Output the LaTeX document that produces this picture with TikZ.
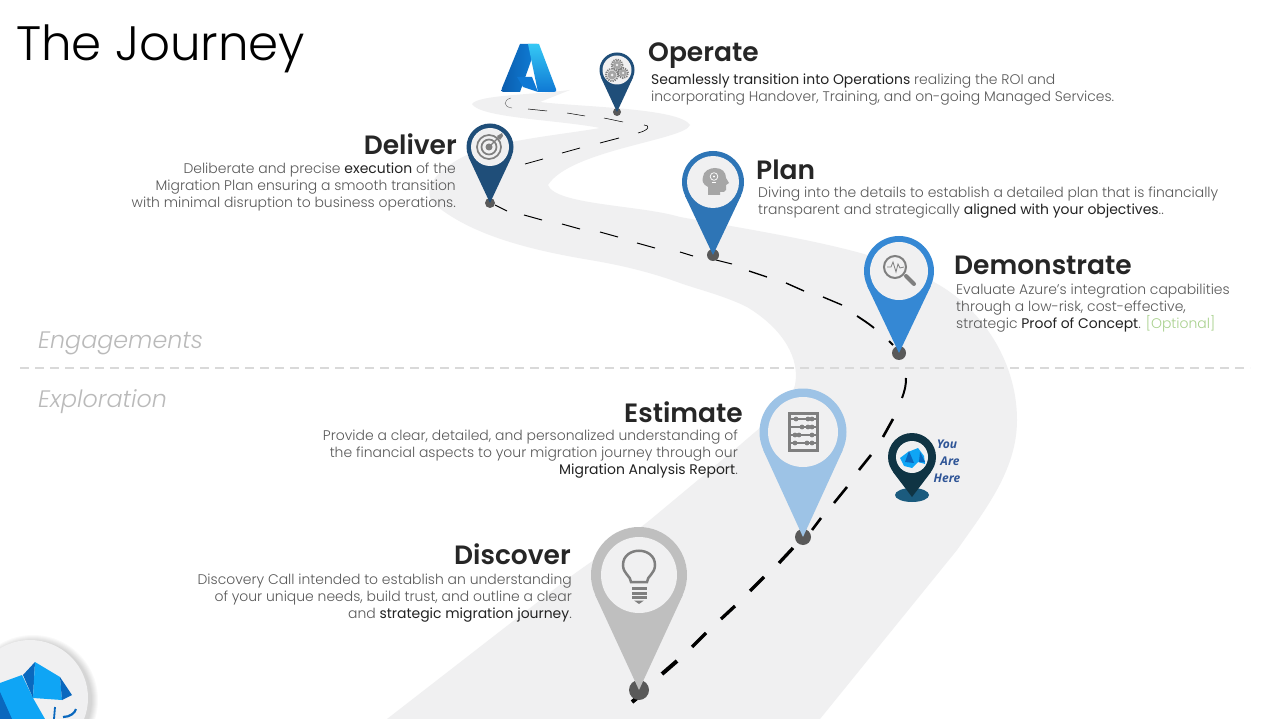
\documentclass[tikz,border=0pt]{standalone}
\usepackage{fontspec}
\setmainfont{Poppins Light}
\newfontfamily\pmed{Poppins SemiBold}
\newfontfamily\preg{Poppins}
\newfontfamily\youfont{Open Sans}
\usetikzlibrary{calc}
\definecolor{roadc}{HTML}{F0F0F1}
\definecolor{bodyc}{HTML}{595959}
\definecolor{emphc}{HTML}{222222}
\definecolor{headc}{HTML}{262626}
\definecolor{dotc}{HTML}{595959}
\definecolor{iconc}{HTML}{7F7F7F}
\definecolor{pinop}{HTML}{1F4E79}
\definecolor{pinpl}{HTML}{2E75B6}
\definecolor{pinde}{HTML}{3588D4}
\definecolor{pines}{HTML}{9DC3E6}
\definecolor{pindi}{HTML}{BFBFBF}
\definecolor{eleL}{HTML}{0FA5F5}
\definecolor{eleD}{HTML}{0A68BE}
\definecolor{youdark}{HTML}{0F3444}
\definecolor{youbase}{HTML}{1B5B7E}
\definecolor{youtext}{HTML}{2F5597}
\definecolor{optc}{HTML}{A9D18E}
\definecolor{azA}{HTML}{0B5CAD}
\definecolor{azB}{HTML}{0F7FD8}
\definecolor{azC}{HTML}{35C8F5}
\definecolor{azD}{HTML}{0F78D4}
\tikzset{
 x=1pt,y=-1pt,
 heading/.style={inner sep=0pt,text=headc,font=\pmed\fontsize{26.5}{30}\selectfont},
 bodytext/.style={inner sep=0pt,text=bodyc,font=\fontsize{13.95}{17}\selectfont},
 seg/.style={line cap=butt,black},
 icon/.style={iconc,line width=1.5pt},
 zone/.style={anchor=west,inner sep=0pt,text=black!27,font=\itshape\fontsize{23.8}{30}\selectfont},
}
\newcommand{\emx}[1]{{\preg\color{emphc}#1}}
% name cx cy R innerR tipy dotR color
\newcommand{\pinmark}[8]{%
 \fill[dotc] (#2,#6) ellipse[x radius=#7pt,y radius=#7pt];
 \node[circle,fill=#8,minimum size=2*#4 pt,inner sep=0pt] (#1) at (#2,#3) {};
 \coordinate (#1tip) at (#2,#6);
 \fill[#8] (#1tip) -- (tangent cs:node=#1,point={(#1tip)},solution=1) -- (tangent cs:node=#1,point={(#1tip)},solution=2) -- cycle;
 \node[circle,fill=roadc,minimum size=2*#5 pt,inner sep=0pt] (#1in) at (#2,#3) {};
}
\begin{document}
\begin{tikzpicture}
\useasboundingbox (0,0) rectangle (1280,719);
\fill[white] (0,0) rectangle (1280,719);
% road
\fill[roadc] (387,719) -- (570,577) .. controls (600,555) and (625,540) .. (650,520)
 -- (740,445) .. controls (765,423) and (790,405) .. (795,385)
 .. controls (800,360) and (785,330) .. (747,307)
 .. controls (725,296) and (700,290) .. (680,283)
 .. controls (650,272) and (620,265) .. (590,260)
 .. controls (530,250) and (470,235) .. (433,203)
 .. controls (420,185) and (445,165) .. (467,155)
 .. controls (500,140) and (560,135) .. (600,128)
 .. controls (560,120) and (480,118) .. (472,104)
 .. controls (478,95) and (530,95) .. (570,90)
 .. controls (560,94) and (550,98) .. (540,102)
 .. controls (580,107) and (680,108) .. (690,125)
 .. controls (685,140) and (570,150) .. (548,185)
 .. controls (555,205) and (640,205) .. (680,217)
 .. controls (780,235) and (880,250) .. (930,280)
 .. controls (980,305) and (1017,360) .. (1017,420)
 .. controls (1017,470) and (985,510) .. (957,550)
 -- (820,719) -- cycle;
% divider
\coordinate (divL) at (20,368); \coordinate (divR) at (1250,368);
\draw[color=black!15,line width=2pt,dash pattern=on 9pt off 6pt] (divL) -- (divR);
\node[zone] (eng) at (38,343) {Engagements};
\node[zone] (exp) at (38,402) {Exploration};
% title
\node[anchor=west,inner sep=0pt,text=black,font=\fontsize{48.3}{55}\selectfont] (title) at (16,49) {The Journey};
% dashes thin
\foreach \a/\b/\c/\d in {528/109/547/111,567/113/585/116,604/118/623/122}{\draw[seg,line width=.5pt] (\a,\b) -- (\c,\d);}
\draw[seg,line width=.4pt,black!60] (511,98) .. controls (503,100) and (503,107) .. (512,108);
\draw[seg,line width=.6pt] (638,133) .. controls (650,130) and (650,125) .. (644,125);
\foreach \a/\b/\c/\d in {600/143/619/138,562/153/580/148,525/164/543/159}{\draw[seg,line width=.8pt] (\a,\b) -- (\c,\d);}
\foreach \a/\b/\c/\d in {495/205/507/211,524/215/542/220,562/224/580/229,600/232/618/237,637/243/655/248,680/252/693/256,716/260/732/264}{\draw[seg,line width=1pt] (\a,\b) -- (\c,\d);}
\foreach \a/\b/\c/\d in {749/271/767/277,786/283/804/291,823/297/842/305}{\draw[seg,line width=1.4pt] (\a,\b) -- (\c,\d);}
\draw[seg,line width=1.8pt] (857,316) .. controls (863,320) and (868,323) .. (874,328);
\draw[seg,line width=1.8pt] (889,341) -- (893,345);
\draw[seg,line width=2pt] (902,398) .. controls (905,390) and (906,385) .. (906,378);
\foreach \a/\b/\c/\d in {883/437/893/419,859/470/871/455,834/503/847/487,812/530/821/518}{\draw[seg,line width=2.6pt] (\a,\b) -- (\c,\d);}
\foreach \a/\b/\c/\d in {779/563/793/548,750/591/764/577,721/619/735/606,692/647/706/633}{\draw[seg,line width=3.3pt] (\a,\b) -- (\c,\d);}
\foreach \a/\b/\c/\d in {662/674/677/661,632/702/637/698}{\draw[seg,line width=4pt] (\a,\b) -- (\c,\d);}
% pins
\pinmark{op}{617}{70}{17.5}{14.5}{112}{4}{pinop}
\pinmark{dl}{490}{147}{23.5}{19}{203}{5}{pinop}
\pinmark{pl}{713}{182}{31}{26}{255}{6}{pinpl}
\pinmark{dm}{899}{271}{35}{29}{353}{7}{pinde}
\pinmark{es}{803}{432}{43.5}{35}{537}{8}{pines}
\pinmark{di}{639}{575}{48}{38}{690}{10}{pindi}
% icons: discover bulb
\draw[icon,line width=2.5pt,fill=roadc] (631,582) .. controls (631,576) and (623,574) .. (623,565) .. controls (623,546) and (655,546) .. (655,565) .. controls (655,574) and (647,576) .. (647,582) -- cycle;
\foreach \yy in {588,593,597.5}{\draw[icon,line width=3pt] (632,\yy) -- (647,\yy);}
\fill[iconc] (634,600.5) -- (644,600.5) -- (639,604) -- cycle;
% abacus
\draw[icon,line width=3pt] (789.5,413.5) rectangle (817.5,450);
\foreach \yy in {419,427,435,443}{\draw[icon,line width=1.3pt] (791,\yy) -- (816,\yy);}
\foreach \a/\b in {796/419,808/419,812/419,802/427,808/427,812/427,795/435,799/435,812/435,795/443,807/443,812/443}{\fill[iconc] (\a,\b) circle[radius=2.4pt];}
% magnifier
\draw[icon,line width=2pt] (895,267) circle[radius=11pt];
\draw[icon,line width=.8pt] (887,267) -- (891,267) -- (893,262) -- (896,272) -- (898,264) -- (900,268) -- (904,267);
\draw[icon,line width=4pt,line cap=round] (906,276) -- (914,284);
% head
\fill[black!35] (708,195) -- (708,187) .. controls (702,184) and (702,180) .. (703,177) .. controls (703,171) and (710,168) .. (715,168) .. controls (722,168) and (726,172) .. (726,178) -- (729,183) -- (726,185) -- (726,190) .. controls (726,192) and (723,192) .. (720,192) -- (720,195) -- cycle;
\draw[white,line width=.7pt] (714,176.5) circle[radius=3.8pt];
\fill[white] (714,176.5) circle[radius=1.2pt];
\draw[white,line width=.8pt] (712,182.5) -- (716,182.5);
% target
\draw[icon,line width=1.7pt] (489,147) circle[radius=12pt];
\draw[icon,line width=1.7pt] (489,147) circle[radius=7.5pt];
\fill[iconc] (489,147) circle[radius=3.5pt];
\draw[icon,line width=1.2pt] (489,147) -- (499,137);
\fill[iconc] (497,136) -- (502,133) -- (503,136) -- (500,140) -- cycle;
% gears
\foreach \a/\b/\r in {617/65/5.5,612/75/6,623/73/5}{\draw[iconc,line width=2pt,dash pattern=on 1.2pt off 1pt] (\a,\b) circle[radius=\r pt];\fill[iconc!70] (\a,\b) circle[radius=.75*\r pt];\fill[roadc] (\a,\b) circle[radius=.25*\r pt];}
% azure logo
\shade[left color=azA,right color=azB] (520,44) -- (537,44) -- (520,92) -- (504,92) .. controls (501,92) and (501,90) .. (502,88) -- cycle;
\shade[bottom color=azD,top color=azC] (528,44) -- (539,44) -- (556,89) .. controls (557,91) and (556,92) .. (554,92) -- (538,92) -- cycle;
\fill[azD] (517,77) -- (532,77) -- (538,92) -- (523,87) -- cycle;
% labels
\node[heading,anchor=west] (opH) at (648,56) {Operate};
\node[bodytext,anchor=north west,align=left] (opT) at (651,73.5) {\emx{Seamlessly transition into Operations} realizing the ROI and\\incorporating Handover, Training, and on-going Managed Services.};
\node[heading,anchor=east] (dlH) at (457,144) {Deliver};
\node[bodytext,anchor=north east,align=right] (dlT) at (456,162.5) {Deliberate and precise \emx{execution} of the\\Migration Plan ensuring a smooth transition\\with minimal disruption to business operations.};
\node[heading,anchor=west] (plH) at (756,170) {Plan};
\node[bodytext,anchor=north west,align=left] (plT) at (758,186.5) {Diving into the details to establish a detailed plan that is financially\\transparent and strategically \emx{aligned with your objectives}..};
\node[heading,anchor=west] (dmH) at (954,265) {Demonstrate};
\node[bodytext,anchor=north west,align=left] (dmT) at (956,284) {Evaluate Azure’s integration capabilities\\through a low-risk, cost-effective,\\strategic \emx{Proof of Concept}. {\color{optc}[Optional]}};
\node[heading,anchor=east] (esH) at (743,412) {Estimate};
\node[bodytext,anchor=north east,align=right] (esT) at (738,429.5) {Provide a clear, detailed, and personalized understanding of\\the financial aspects to your migration journey through our\\\emx{Migration Analysis Report}.};
\node[heading,anchor=east] (diH) at (571,554) {Discover};
\node[bodytext,anchor=north east,align=right] (diT) at (572,574) {Discovery Call intended to establish an understanding\\of your unique needs, build trust, and outline a clear\\and \emx{strategic migration journey}.};
% you are here
\fill[youbase] (912,495) ellipse[x radius=17pt,y radius=7pt];
\node[circle,fill=youdark,minimum size=48pt,inner sep=0pt] (yo) at (912,457) {};
\coordinate (yotip) at (912,497);
\fill[youdark] (yotip) -- (tangent cs:node=yo,point={(yotip)},solution=1) -- (tangent cs:node=yo,point={(yotip)},solution=2) -- cycle;
\node[circle,fill=roadc,minimum size=32pt,inner sep=0pt] (yoin) at (912,457) {};
\fill[eleL] (900,458) -- (908,452) -- (918,448) -- (924,456) -- (925,464) -- (918,462) -- (912,468) -- (904,466) -- cycle;
\fill[eleD] (905,462) -- (909,451) -- (914,463) -- cycle;
\fill[eleD] (920,452) -- (925,462) -- (919,462) -- cycle;
\node[inner sep=0pt,text=youtext,font=\youfont\bfseries\itshape\fontsize{12}{17}\selectfont,align=center] (yoT) at (947,461) {You\hspace{3pt}\\\hspace{6pt}Are\\Here};
% corner logo
\foreach \r in {65,64,63,62,61,60,59}{\fill[black,opacity=.025] (33,700) circle[radius=\r pt];}
\node[circle,fill=roadc,minimum size=116pt,inner sep=0pt] (lg) at (30,698) {};
\begin{scope}
\clip (0,640) rectangle (90,719);
\fill[eleL] (0,683) -- (22,675) -- (33,698) -- (45,719) -- (0,719) -- cycle;
\fill[eleD] (0,692) -- (12,719) -- (0,719) -- cycle;
\fill[eleD] (35,662) -- (23,675) -- (33,698) -- cycle;
\fill[eleL] (35,662) -- (60,677) -- (62,700) -- (33,698) -- cycle;
\fill[eleD] (60,677) -- (72,695) -- (62,700) -- cycle;
\draw[eleD,line width=1.8pt] (55,707) -- (54,719);
\draw[eleD,line width=2.2pt] (63,717) .. controls (70,717) and (75,713) .. (76,709);
\end{scope}
\end{tikzpicture}
\end{document}
